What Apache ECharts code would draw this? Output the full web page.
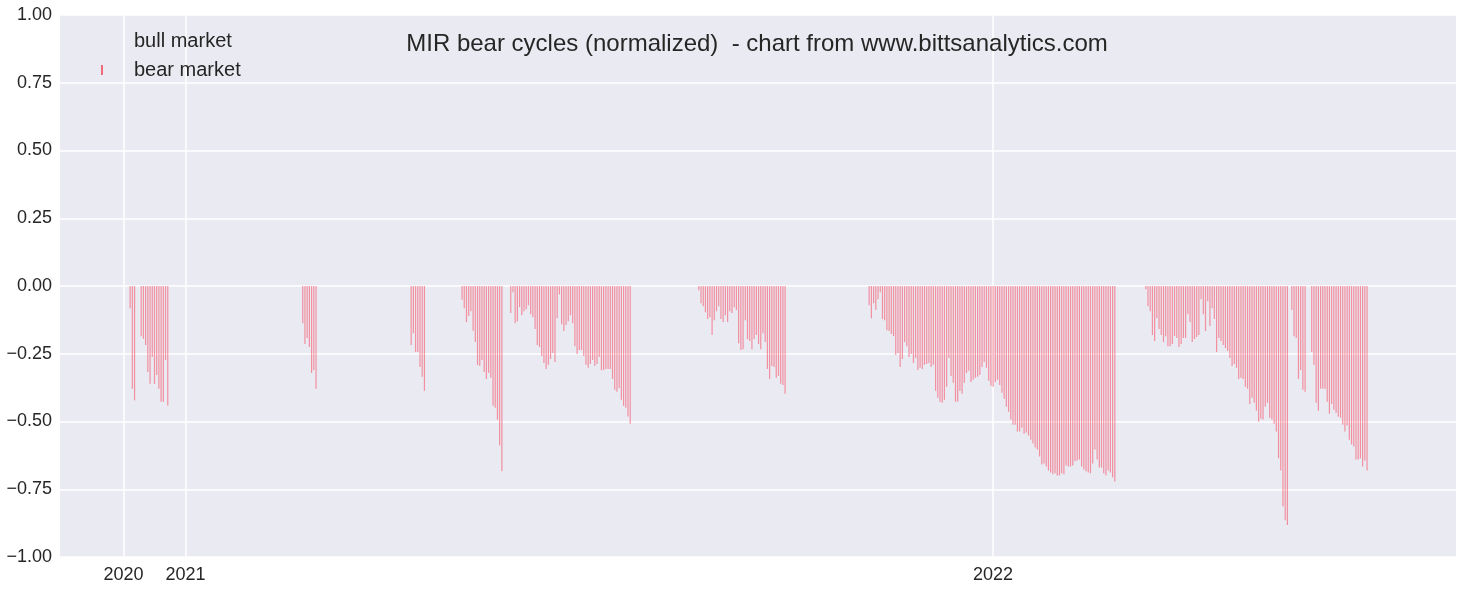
<!DOCTYPE html>
<html>
<head>
<meta charset="utf-8">
<script src="https://cdn.jsdelivr.net/npm/echarts@6/dist/echarts.min.js"></script>
<style>
  html, body { margin: 0; padding: 0; background: #fff; }
  #chart { width: 1462px; height: 590px; }
</style>
</head>
<body>
<div id="chart"></div>
<script>
  // day index 0 = first trading day (early Dec 2020)
  var yearTicks = [0, 28, 393];
  var yearLabels = ['2020', '2021', '2022'];

  // bear cycles: first day index of each run + normalized drawdown values
  var bearStarts = [3, 8, 81, 130, 153, 175, 260, 337, 462, 528, 537];
  var bearRuns = [
    [-0.082, -0.379, -0.422],
    [-0.185, -0.195, -0.218, -0.317, -0.361, -0.262, -0.361, -0.328, -0.379, -0.427, -0.427, -0.273, -0.441],
    [-0.137, -0.214, -0.192, -0.225, -0.321, -0.310, -0.379],
    [-0.218, -0.174, -0.244, -0.244, -0.299, -0.335, -0.387],
    [-0.051, -0.082, -0.133, -0.111, -0.093, -0.165, -0.207, -0.291, -0.295, -0.273,
     -0.317, -0.343, -0.321, -0.339, -0.442, -0.449, -0.493, -0.589, -0.684],
    [-0.100, -0.023, -0.137, -0.130, -0.078, -0.108, -0.093, -0.086, -0.071, -0.104,
     -0.115, -0.159, -0.218, -0.225, -0.258, -0.284, -0.306, -0.291, -0.269, -0.247,
     -0.280, -0.119, -0.031, -0.141, -0.166, -0.144, -0.130, -0.108, -0.137, -0.222,
     -0.251, -0.236, -0.236, -0.258, -0.291, -0.302, -0.288, -0.273, -0.295, -0.288,
     -0.262, -0.311, -0.310, -0.306, -0.306, -0.306, -0.343, -0.383, -0.390, -0.376,
     -0.420, -0.442, -0.449, -0.482, -0.508],
    [-0.016, -0.064, -0.075, -0.097, -0.122, -0.115, -0.181, -0.126, -0.093, -0.075,
     -0.122, -0.133, -0.108, -0.133, -0.093, -0.100, -0.078, -0.089, -0.211, -0.236,
     -0.233, -0.126, -0.196, -0.203, -0.233, -0.196, -0.181, -0.214, -0.233, -0.174,
     -0.207, -0.306, -0.343, -0.295, -0.299, -0.339, -0.332, -0.361, -0.365, -0.398],
    [-0.071, -0.119, -0.064, -0.089, -0.049, -0.023, -0.122, -0.126, -0.163, -0.166,
     -0.177, -0.185, -0.255, -0.247, -0.299, -0.269, -0.207, -0.222, -0.262, -0.251,
     -0.284, -0.266, -0.310, -0.302, -0.306, -0.291, -0.288, -0.284, -0.299, -0.291,
     -0.387, -0.412, -0.427, -0.431, -0.420, -0.372, -0.266, -0.332, -0.357, -0.427,
     -0.427, -0.387, -0.398, -0.357, -0.321, -0.313, -0.354, -0.346, -0.339, -0.335,
     -0.328, -0.299, -0.280, -0.302, -0.350, -0.368, -0.372, -0.354, -0.346, -0.365,
     -0.394, -0.416, -0.446, -0.464, -0.493, -0.512, -0.512, -0.537, -0.537, -0.523,
     -0.545, -0.541, -0.552, -0.567, -0.581, -0.596, -0.603, -0.629, -0.659, -0.655,
     -0.666, -0.681, -0.688, -0.695, -0.691, -0.699, -0.699, -0.691, -0.695, -0.662,
     -0.666, -0.666, -0.662, -0.647, -0.644, -0.640, -0.666, -0.677, -0.684, -0.688,
     -0.691, -0.655, -0.603, -0.640, -0.670, -0.670, -0.691, -0.699, -0.681, -0.688,
     -0.706, -0.721],
    [-0.012, -0.075, -0.093, -0.181, -0.203, -0.119, -0.159, -0.181, -0.207, -0.185,
     -0.222, -0.222, -0.214, -0.185, -0.192, -0.225, -0.214, -0.192, -0.192, -0.104,
     -0.133, -0.207, -0.196, -0.188, -0.181, -0.049, -0.104, -0.166, -0.056, -0.148,
     -0.082, -0.122, -0.244, -0.192, -0.203, -0.218, -0.229, -0.240, -0.266, -0.295,
     -0.288, -0.302, -0.343, -0.339, -0.343, -0.372, -0.379, -0.435, -0.412, -0.431,
     -0.460, -0.501, -0.490, -0.493, -0.446, -0.431, -0.486, -0.493, -0.508, -0.537,
     -0.636, -0.681, -0.813, -0.864, -0.882],
    [-0.089, -0.185, -0.192, -0.343, -0.310, -0.383, -0.390],
    [-0.244, -0.291, -0.431, -0.460, -0.379, -0.379, -0.379, -0.427, -0.471, -0.435,
     -0.457, -0.468, -0.482, -0.486, -0.512, -0.537, -0.515, -0.567, -0.585, -0.592,
     -0.640, -0.640, -0.636, -0.666, -0.644, -0.681]
  ];
  // bull bars are drawn almost in the background colour, values not readable
  var bullData = [];

  var bearData = [];
  bearRuns.forEach(function (run, k) {
    run.forEach(function (v, i) {
      bearData.push([bearStarts[k] + i, v]);
    });
  });

  var txt = '#262626';
  var chart = echarts.init(document.getElementById('chart'));

  var option = {
    backgroundColor: '#ffffff',
    animation: false,
    textStyle: { fontFamily: 'Liberation Sans, Arial, sans-serif' },
    title: {
      text: 'MIR bear cycles (normalized)  - chart from www.bittsanalytics.com',
      left: 752,
      top: 27,
      textAlign: 'center',
      textStyle: { fontSize: 24, fontWeight: 'normal', color: txt }
    },
    legend: {
      orient: 'vertical',
      left: 96,
      top: 26,
      itemGap: 9,
      itemWidth: 2,
      itemHeight: 10,
      icon: 'rect',
      textStyle: { fontSize: 20, color: txt, padding: [0, 0, 0, 26] },
      data: [
        { name: 'bull market', itemStyle: { color: 'rgba(234,234,242,0)' } },
        { name: 'bear market', itemStyle: { color: '#f2697a' } }
      ]
    },
    grid: {
      left: 60, right: 6, top: 15, bottom: 33,
      show: true, backgroundColor: '#eaeaf2', borderWidth: 0
    },
    xAxis: {
      type: 'value',
      min: -28.7,
      max: 602.2,
      axisLine: { show: false },
      axisTick: { show: false, customValues: yearTicks },
      axisLabel: {
        customValues: yearTicks,
        fontSize: 18, color: txt, margin: 9,
        formatter: function (v) {
          var i = yearTicks.indexOf(v);
          return i >= 0 ? yearLabels[i] : '';
        }
      },
      splitLine: { show: true, lineStyle: { color: '#ffffff', width: 1.5 } }
    },
    yAxis: {
      type: 'value',
      min: -1,
      max: 1,
      interval: 0.25,
      axisLine: { show: false },
      axisTick: { show: false },
      axisLabel: {
        fontSize: 18, color: txt, margin: 8,
        formatter: function (v) {
          var s = Math.abs(v).toFixed(2);
          return v < 0 ? '\u2212' + s : s;
        }
      },
      splitLine: { show: true, lineStyle: { color: '#ffffff', width: 1.5 } }
    },
    series: [
      {
        name: 'bull market',
        type: 'bar',
        barWidth: 1.2,
        itemStyle: { color: 'rgba(255,255,255,0.3)' },
        data: bullData
      },
      {
        name: 'bear market',
        type: 'bar',
        barWidth: 1.2,
        barGap: '-100%',
        itemStyle: { color: 'rgba(248,70,92,0.55)' },
        data: bearData
      }
    ]
  };

  chart.setOption(option);
</script>
</body>
</html>
